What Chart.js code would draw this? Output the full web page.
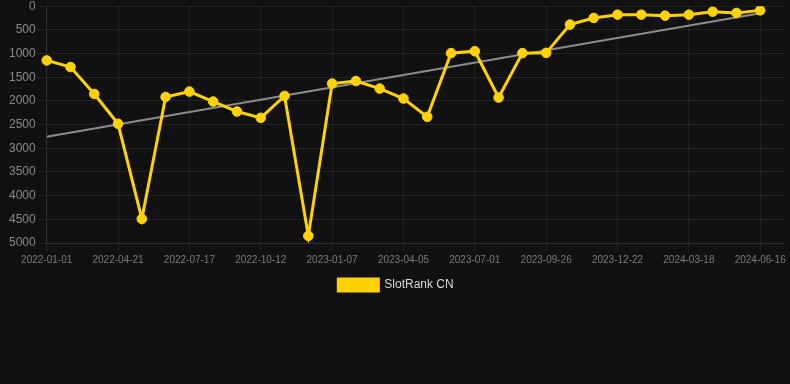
<!DOCTYPE html>
<html>
<head>
<meta charset="utf-8">
<script src="https://cdn.jsdelivr.net/npm/chart.js@4.4.1/dist/chart.umd.min.js"></script>
<style>
    html, body { margin: 0; padding: 0; background: #111111; overflow: hidden; }
    #wrap { width: 790px; height: 305px; position: relative; margin-top: -4px; }
</style>
</head>
<body>
<div id="wrap"><canvas id="rankChart"></canvas></div>
<script>
const dates = [
    '2022-01-01', '2022-02-07', '2022-03-16', '2022-04-21', '2022-05-20', '2022-06-18',
    '2022-07-17', '2022-08-15', '2022-09-13', '2022-10-12', '2022-11-10', '2022-12-09',
    '2023-01-07', '2023-02-05', '2023-03-07', '2023-04-05', '2023-05-04', '2023-06-02',
    '2023-07-01', '2023-07-30', '2023-08-28', '2023-09-26', '2023-10-25', '2023-11-23',
    '2023-12-22', '2024-01-20', '2024-02-18', '2024-03-18', '2024-04-17', '2024-05-17',
    '2024-06-16', ''
];
const rankCN = [
    1145, 1285, 1853, 2483, 4492, 1916, 1803, 2013, 2223, 2357, 1895, 4849,
    1634, 1580, 1740, 1950, 2336, 991, 950, 1929, 991, 985, 389, 248,
    179, 179, 200, 179, 116, 143, 88
];
const trendStart = 2756;
const trendEnd = 150;
const yTicks = { min: 0, max: 5000, step: 500 };

document.addEventListener("DOMContentLoaded", () => {
    const ctx = document.getElementById('rankChart').getContext('2d');
    const gridColor = 'rgba(255, 255, 255, 0.07)';

    // trend line only has the two ends, the rest is spanned
    const trendData = rankCN.map((v, i) => i === 0 ? trendStart : (i === rankCN.length - 1 ? trendEnd : null));

    new Chart(ctx, {
        type: 'line',
        data: {
            labels: dates,
            datasets: [{
                label: 'SlotRank CN',
                data: rankCN,
                borderColor: '#ffd200',
                backgroundColor: '#ffd200',
                borderWidth: 3,
                pointRadius: 4.8,
                pointBorderWidth: 1,
                pointHoverRadius: 5,
                tension: 0,
            }, {
                label: 'trend',
                data: trendData,
                borderColor: 'rgba(140, 140, 140, 1)',
                borderWidth: 2,
                pointRadius: 0,
                spanGaps: true,
            }]
        },
        options: {
            responsive: true,
            maintainAspectRatio: false,
            animation: false,
            layout: {
                padding: { left: 6, right: 4, top: 0, bottom: 0 }
            },
            plugins: {
                legend: {
                    position: 'bottom',
                    labels: {
                        color: '#d8d8d8',
                        font: { family: 'Arial, "Liberation Sans"', size: 12 },
                        boxWidth: 40,
                        boxHeight: 12,
                        filter: item => item.datasetIndex === 0,
                    }
                },
                tooltip: { enabled: false }
            },
            scales: {
                x: {
                    grid: {
                        color: (c) => (c.index % 3 === 0 && c.index < 31) ? gridColor : 'transparent',
                    },
                    border: { color: gridColor },
                    ticks: {
                        color: '#7c7c7c',
                        autoSkip: false,
                        maxRotation: 0,
                        font: { family: 'Arial, "Liberation Sans"', size: 10 },
                        callback: function(value, index) {
                            return index % 3 === 0 ? this.getLabelForValue(value) : '';
                        }
                    }
                },
                y: {
                    reverse: true,
                    min: yTicks.min,
                    max: yTicks.max,
                    grid: { color: gridColor },
                    border: { color: gridColor },
                    ticks: {
                        stepSize: yTicks.step,
                        color: '#8a8a8a',
                        font: { family: 'Arial, "Liberation Sans"', size: 12 },
                        callback: value => String(value),
                    }
                }
            }
        }
    });
});
</script>
</body>
</html>
